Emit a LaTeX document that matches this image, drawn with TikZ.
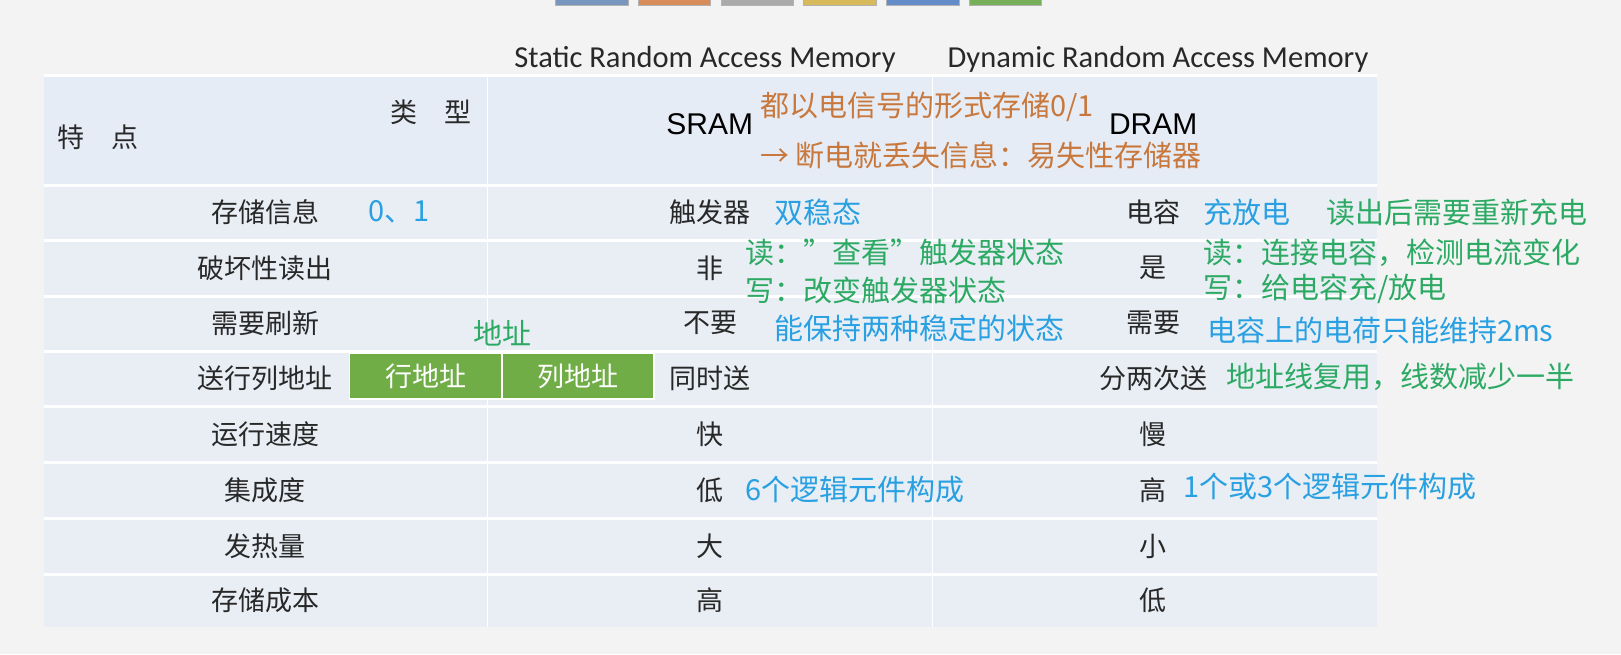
\documentclass[tikz,border=0pt]{standalone}
\usepackage{fontspec}
\setmainfont{Liberation Sans}
\newfontfamily\cjk{Noto Sans CJK SC}
\newfontfamily\calfont{Carlito}
\definecolor{pagebg}{RGB}{243,243,243}
\definecolor{cellbg}{RGB}{233,238,245}
\definecolor{headbg}{RGB}{230,236,246}
\definecolor{gbox}{RGB}{112,173,71}
\definecolor{gtxt}{RGB}{44,170,100}
\definecolor{btxt}{RGB}{40,160,225}
\definecolor{otxt}{RGB}{200,120,60}
\definecolor{ktxt}{RGB}{40,40,40}
\tikzset{
  every node/.style={inner sep=0pt, outer sep=0pt},
  lab/.style={font=\cjk\fontsize{27}{30}\selectfont, text=ktxt},
  gr/.style={font=\cjk\fontsize{29}{30}\selectfont, text=gtxt, anchor=west},
  bl/.style={font=\cjk\fontsize{29}{30}\selectfont, text=btxt, anchor=west},
  og/.style={font=\cjk\fontsize{29}{30}\selectfont, text=otxt, anchor=west},
  eng/.style={font=\calfont\fontsize{30.5}{32}\selectfont, text=ktxt},
  sep/.style={white, line width=3pt},
  csep/.style={white, line width=1pt},
  gcell/.style={fill=gbox, draw=white, line width=1.5pt, minimum height=46pt, minimum width=152pt, text=white, font=\cjk\fontsize{27}{30}\selectfont},
  btn/.style={draw=gray!60, line width=0.6pt}
}
\begin{document}
\begin{tikzpicture}[x=1pt,y=-1pt]
\fill[pagebg] (0,0) rectangle (1621,654);
\useasboundingbox (0,0) rectangle (1621,654);
% top buttons
\fill[btn, fill={rgb,255:red,120;green,150;blue,190}] (555,-6) rectangle (628,5);
\fill[btn, fill={rgb,255:red,215;green,140;blue,90}] (638,-6) rectangle (710,5);
\fill[btn, fill={rgb,255:red,170;green,170;blue,170}] (721,-6) rectangle (793,5);
\fill[btn, fill={rgb,255:red,215;green,185;blue,90}] (803,-6) rectangle (876,5);
\fill[btn, fill={rgb,255:red,100;green,140;blue,200}] (886,-6) rectangle (959,5);
\fill[btn, fill={rgb,255:red,120;green,175;blue,90}] (969,-6) rectangle (1041,5);
% table
\fill[headbg] (44,75) rectangle (1377,185);
\fill[cellbg] (44,185) rectangle (1377,627);
\foreach \y in {185,240.5,296,351,406,462,518,574}{\draw[sep] (44,\y) -- (1377,\y);}
\draw[sep] (44,75) -- (1377,75);
\draw[csep] (487,75) -- (487,627);
\draw[csep] (932,75) -- (932,627);
% english headings
\node[eng] (st) at (705,59) {Static Random Access Memory};
\node[eng] (dy) at (1158,59) {Dynamic Random Access Memory};
% header
\node[lab] (td) at (98,137) {特\hspace{1em}点};
\node[lab] (lx) at (431,112) {类\hspace{1em}型};
\node[font=\fontsize{30}{32}\selectfont, text=black, anchor=east] (sram) at (753,124) {SRAM};
\node[font=\fontsize{30}{32}\selectfont, text=black, anchor=west] (dram) at (1109,124) {DRAM};
\node[og] (o1) at (760,107) {都以电信号的形式存储0/1};
\node[og] (o2) at (760,155) {→ 断电就丢失信息：易失性存储器};
% row labels
\node[lab] (r1) at (265,212) {存储信息};
\node[lab] (r2) at (265,268) {破坏性读出};
\node[lab] (r3) at (265,323) {需要刷新};
\node[lab] (r4) at (265,378) {送行列地址};
\node[lab] (r5) at (265,434) {运行速度};
\node[lab] (r6) at (265,490) {集成度};
\node[lab] (r7) at (265,546) {发热量};
\node[lab] (r8) at (265,600) {存储成本};
% sram values
\node[lab] (s1) at (710,212) {触发器};
\node[lab] (s2) at (710,268) {非};
\node[lab] (s3) at (710,323) {不要};
\node[lab] (s4) at (710,378) {同时送};
\node[lab] (s5) at (710,434) {快};
\node[lab] (s6) at (710,490) {低};
\node[lab] (s7) at (710,546) {大};
\node[lab] (s8) at (710,600) {高};
% dram values
\node[lab] (d1) at (1153,212) {电容};
\node[lab] (d2) at (1153,268) {是};
\node[lab] (d3) at (1153,323) {需要};
\node[lab] (d4) at (1153,378) {分两次送};
\node[lab] (d5) at (1153,434) {慢};
\node[lab] (d6) at (1153,490) {高};
\node[lab] (d7) at (1153,546) {小};
\node[lab] (d8) at (1153,600) {低};
% annotations
\node[bl] (a01) at (368,212) {0、1};
\node[bl] (a1) at (774,212) {双稳态};
\node[bl] (a2) at (1203,212) {充放电};
\node[gr] (a3) at (1326,212) {读出后需要重新充电};
\node[gr] (a4) at (745,252) {读：”查看”触发器状态};
\node[gr] (a5) at (745,290) {写：改变触发器状态};
\node[gr] (a6) at (1203,253) {读：连接电容，检测电流变化};
\node[gr] (a7) at (1203,289) {写：给电容充/放电};
\node[bl] (a8) at (774,328) {能保持两种稳定的状态};
\node[bl] (a9) at (1207,330) {电容上的电荷只能维持2ms};
\node[gr] (a10) at (1226,377) {地址线复用，线数减少一半};
\node[bl] (a11) at (745,490) {6个逻辑元件构成};
\node[bl] (a12) at (1183,487) {1个或3个逻辑元件构成};
% address boxes
\node[gcell] (ha) at (425.5,376) {行地址};
\node[gcell] (la) at (578,376) {列地址};
\node[gr, anchor=center] (addr) at (502,333) {地址};
\end{tikzpicture}
\end{document}
